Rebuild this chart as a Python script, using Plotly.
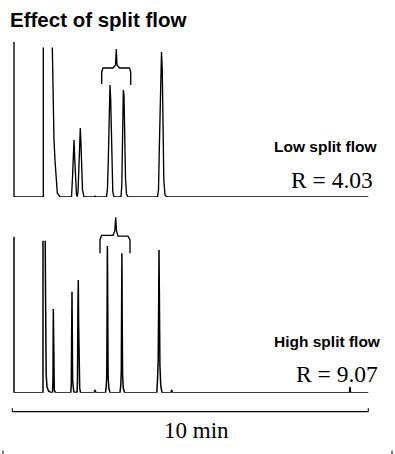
import plotly.graph_objects as go

# ---- data (time in min, relative detector signal, 100 = panel height) ----
LOW_T = [0.048, 0.048, 0.871, 0.871, None, 1.124, 1.135, 1.143, 1.157, 1.171, 1.199, 1.228, 1.264, 1.340,
         1.663, 1.691, 1.713, 1.733, 1.753, 1.775, 1.803, 1.826,
         1.846, 1.868, 1.888, 1.910, 1.930, 1.949, 1.972, 2.014,
         2.295, 2.323, 2.351,
         2.646, 2.674, 2.697, 2.716, 2.730, 2.744, 2.764, 2.781, 2.801, 2.823, 2.857,
         3.053, 3.076, 3.096, 3.119, 3.138, 3.158, 3.180, 3.208, 3.250,
         4.079, 4.107, 4.129, 4.163, 4.191, 4.213, 4.233, 4.256, 4.289, 4.346,
         10.0]
LOW_I = [100, 0, 0, 96.3, None, 96.3, 75.3, 62.5, 46.4, 36.7, 23.8, 10.9, 2.6, 0,
         0, 12.2, 30.3, 36.7, 25.1, 9.7, 1.3, 0.3,
         3.2, 17.4, 36.7, 44.4, 33.5, 16.1, 4.5, 0,
         0, 0.6, 0,
         0, 5.8, 23.8, 45.1, 59.2, 72.1, 62.5, 43.1, 14.2, 3.2, 0,
         0, 7.7, 30.3, 68.9, 65.7, 36.7, 12.2, 1.9, 0,
         0, 4.5, 30.3, 65.7, 93.4, 81.8, 43.1, 10.9, 1.3, 0,
         0]

HIGH_T = [0.048, 0.048, 0.862, 0.862, None, 0.924, 0.927, 0.941, 0.952, 0.975, 1.017, 1.087,
          1.129, 1.143, 1.152, 1.163, 1.180, 1.213,
          1.643, 1.657, 1.666, 1.677, 1.685, 1.694, 1.711, 1.728,
          1.818, 1.831, 1.843, 1.854, 1.862, 1.874, 1.893, 1.916,
          2.295, 2.323, 2.351,
          2.618, 2.640, 2.654, 2.663, 2.671, 2.680, 2.691, 2.711, 2.744,
          3.025, 3.048, 3.062, 3.072, 3.079, 3.086, 3.098, 3.118, 3.152,
          4.059, 4.079, 4.098, 4.112, 4.121, 4.132, 4.146, 4.169, 4.205,
          4.450, 4.478, 4.506,
          9.470, 9.486, 9.502,
          10.0]
HIGH_I = [100, 0, 0, 97.4, None, 97.4, 48.5, 40.2, 11.3, 3.7, 1.1, 0,
          0, 8.1, 53.7, 11.3, 1.7, 0,
          0, 4.9, 46.5, 64.7, 40.2, 8.1, 4.3, 0.4,
          0, 8.1, 53.0, 72.2, 46.5, 6.2, 3.0, 0,
          0, 1.7, 0,
          0, 4.3, 11.3, 46.5, 94.0, 59.4, 10.7, 3.0, 0,
          0, 4.9, 14.6, 59.4, 89.4, 53.0, 11.3, 3.0, 0,
          0, 8.1, 21.0, 59.4, 91.5, 59.4, 17.8, 4.9, 0,
          0, 1.7, 0,
          0, 3.7, 0,
          0]

# curly brackets marking the critical peak pair
LOW_BRACKET_T = [2.511, 2.511, 2.548, 2.829, 2.899, 2.921, 2.941, 3.011, 3.292, 3.326, 3.326]
LOW_BRACKET_I = [72.8, 80.5, 83.1, 83.1, 85.0, 95.3, 85.0, 83.1, 83.1, 80.5, 72.1]
HIGH_BRACKET_T = [2.463, 2.463, 2.506, 2.829, 2.879, 2.904, 2.927, 2.969, 3.250, 3.306, 3.306]
HIGH_BRACKET_I = [89.4, 97.9, 100.8, 100.9, 103.7, 112.4, 103.7, 100.4, 100.4, 97.9, 89.4]

SCALE_BAR = [0, 10]  # minutes
TITLE = "Effect of split flow"
PANEL_LABELS = ["Low split flow", "High split flow"]
RESOLUTIONS = ["R = 4.03", "R = 9.07"]
SCALE_LABEL = "10 min"

W, H = 395, 454
LINE_TOP = dict(color="black", width=1.35)
LINE_BOT = dict(color="black", width=1.5)

fig = go.Figure()
fig.add_trace(go.Scatter(x=LOW_T, y=LOW_I, mode="lines", line=LINE_TOP, xaxis="x", yaxis="y",
                         connectgaps=False, hoverinfo="skip"))
fig.add_trace(go.Scatter(x=LOW_BRACKET_T, y=LOW_BRACKET_I, mode="lines", line=LINE_TOP,
                         xaxis="x", yaxis="y", hoverinfo="skip"))
fig.add_trace(go.Scatter(x=HIGH_T, y=HIGH_I, mode="lines", line=LINE_BOT, xaxis="x", yaxis="y2",
                         connectgaps=False, hoverinfo="skip"))
fig.add_trace(go.Scatter(x=HIGH_BRACKET_T, y=HIGH_BRACKET_I, mode="lines", line=LINE_TOP,
                         xaxis="x", yaxis="y2", hoverinfo="skip"))

def py(p):
    return 1 - p / H

shapes = [
    dict(type="line", xref="x", yref="paper", x0=SCALE_BAR[0], x1=SCALE_BAR[1],
         y0=py(411.7), y1=py(411.7), line=dict(color="black", width=1.3)),
    dict(type="line", xref="x", yref="paper", x0=SCALE_BAR[0], x1=SCALE_BAR[0],
         y0=py(411.7), y1=py(408.3), line=dict(color="black", width=1.1)),
    dict(type="line", xref="x", yref="paper", x0=SCALE_BAR[1], x1=SCALE_BAR[1],
         y0=py(411.7), y1=py(408.3), line=dict(color="black", width=1.1)),
    dict(type="line", xref="paper", yref="paper", x0=3 / W, x1=3 / W,
         y0=py(450.5), y1=py(454), line=dict(color="black", width=1)),
    dict(type="line", xref="paper", yref="paper", x0=392 / W, x1=392 / W,
         y0=py(450.5), y1=py(454), line=dict(color="black", width=1)),
]

SANS = "Liberation Sans, Arial, sans-serif"
SERIF = "Liberation Serif, Times New Roman, serif"
annotations = [
    dict(text="<b>" + TITLE + "</b>", x=8.3 / W, y=py(19.9), xanchor="left", yanchor="middle",
         font=dict(family=SANS, size=20.5, color="black")),
    dict(text="<b>" + PANEL_LABELS[0] + "</b>", x=271.7 / W, y=py(146.1), xanchor="left",
         yanchor="middle", font=dict(family=SANS, size=15.5, color="black")),
    dict(text=RESOLUTIONS[0], x=289 / W, y=py(180.2), xanchor="left", yanchor="middle",
         font=dict(family=SERIF, size=23.5, color="black")),
    dict(text="<b>" + PANEL_LABELS[1] + "</b>", x=271.7 / W, y=py(341.3), xanchor="left",
         yanchor="middle", font=dict(family=SANS, size=15.5, color="black")),
    dict(text=RESOLUTIONS[1], x=294 / W, y=py(374.3), xanchor="left", yanchor="middle",
         font=dict(family=SERIF, size=23.5, color="black")),
    dict(text=SCALE_LABEL, x=196.3 / W, y=py(430.8), xanchor="center", yanchor="middle",
         font=dict(family=SERIF, size=23, color="black")),
]
for a in annotations:
    a.update(xref="paper", yref="paper", showarrow=False)

fig.update_layout(
    width=W, height=H, autosize=False,
    margin=dict(l=0, r=0, t=0, b=0),
    paper_bgcolor="white", plot_bgcolor="white",
    showlegend=False,
    xaxis=dict(range=[-0.3455, 10.750], domain=[0, 1], visible=False, fixedrange=True),
    yaxis=dict(range=[0, 100], domain=[py(197), py(41.7)], visible=False, fixedrange=True),
    yaxis2=dict(range=[0, 120], domain=[py(392.7), py(205.5)], anchor="x", visible=False,
                fixedrange=True),
    shapes=shapes,
    annotations=annotations,
)

fig.write_html("out.html", config=dict(displayModeBar=False),
               post_script="document.body.style.margin='0';document.body.style.overflow='hidden';")
